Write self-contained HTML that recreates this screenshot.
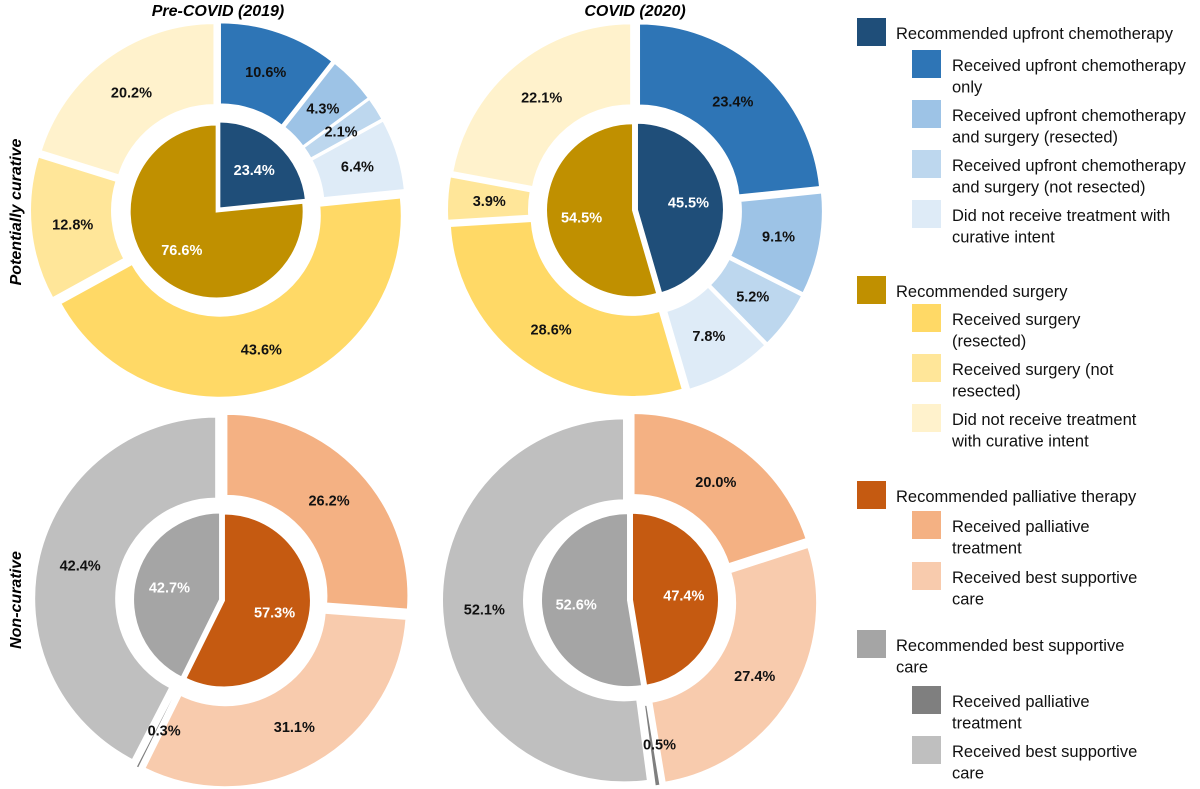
<!DOCTYPE html>
<html><head><meta charset="utf-8"><style>
html,body{margin:0;padding:0;background:#fff;}
svg{display:block;font-family:"Liberation Sans",Arial,sans-serif;}
</style></head><body>
<svg id="fig" width="1200" height="789" viewBox="0 0 1200 789" xmlns="http://www.w3.org/2000/svg">
<text x="218" y="16" font-size="16" font-weight="bold" font-style="italic" text-anchor="middle">Pre-COVID (2019)</text>
<text x="635" y="16" font-size="16" font-weight="bold" font-style="italic" text-anchor="middle">COVID (2020)</text>
<text transform="translate(21,212) rotate(-90)" font-size="16" font-weight="bold" font-style="italic" text-anchor="middle">Potentially curative</text>
<text transform="translate(21,600) rotate(-90)" font-size="16" font-weight="bold" font-style="italic" text-anchor="middle">Non-curative</text>
<g id="marks"></g>
<g id="labels"></g>
<g id="legend"></g>
</svg>
<script>
// Inner ring values (%)
const preCurInner = [23.4, 76.6];
const preCurOuter = [10.6, 4.3, 2.1, 6.4, 43.6, 12.8, 20.2];
const covCurInner = [45.5, 54.5];
const covCurOuter = [23.4, 9.1, 5.2, 7.8, 28.6, 3.9, 22.1];
const preNonInner = [57.3, 42.7];
const preNonOuter = [26.2, 31.1, 0.3, 42.4];
const covNonInner = [47.4, 52.6];
const covNonOuter = [20.0, 27.4, 0.5, 52.1];

const curInnerColors = ['#1f4e79', '#c09000'];
const curOuterColors = ['#2e75b6', '#9dc3e6', '#bdd7ee', '#deebf7', '#ffd966', '#ffe699', '#fff2cc'];
const nonInnerColors = ['#c55a11', '#a5a5a5'];
const nonOuterColors = ['#f4b183', '#f8cbad', '#7f7f7f', '#bfbfbf'];

const NS = 'http://www.w3.org/2000/svg';
const marks = document.getElementById('marks');
const labels = document.getElementById('labels');

function pt(cx, cy, r, a) { return [cx + r * Math.sin(a), cy - r * Math.cos(a)]; }
function arcPath(cx, cy, r0, r1, a0, a1) {
  const large = (a1 - a0) > Math.PI ? 1 : 0;
  const p1 = pt(cx, cy, r1, a0), p2 = pt(cx, cy, r1, a1);
  if (r0 <= 0) {
    return `M${cx},${cy}L${p1[0]},${p1[1]}A${r1},${r1} 0 ${large} 1 ${p2[0]},${p2[1]}Z`;
  }
  const p3 = pt(cx, cy, r0, a1), p4 = pt(cx, cy, r0, a0);
  return `M${p1[0]},${p1[1]}A${r1},${r1} 0 ${large} 1 ${p2[0]},${p2[1]}L${p3[0]},${p3[1]}A${r0},${r0} 0 ${large} 0 ${p4[0]},${p4[1]}Z`;
}

function ring(name, cx, cy, vals, colors, r0, r1, explode, labelR, labelColor, smallR) {
  const total = vals.reduce((s, v) => s + v, 0);
  let acc = 0;
  vals.forEach((v, i) => {
    const a0 = acc / total * 2 * Math.PI;
    acc += v;
    const a1 = acc / total * 2 * Math.PI;
    const mid = (a0 + a1) / 2;
    const ox = explode * Math.sin(mid), oy = -explode * Math.cos(mid);
    const p = document.createElementNS(NS, 'path');
    p.setAttribute('d', arcPath(cx + ox, cy + oy, r0, r1, a0, a1));
    p.setAttribute('fill', colors[i]);
    p.setAttribute('stroke', '#fff');
    p.setAttribute('stroke-width', '2');
    
    
    marks.appendChild(p);
    const small = v < 1;
    const lr = small ? smallR : labelR;
    const lp = pt(cx + ox, cy + oy, lr, mid);
    const t = document.createElementNS(NS, 'text');
    t.setAttribute('x', lp[0] + (small ? 8 : 0));
    t.setAttribute('y', lp[1] + 5);
    t.setAttribute('text-anchor', 'middle');
    t.setAttribute('font-size', '14.5');
    t.setAttribute('font-weight', 'bold');
    t.setAttribute('fill', labelColor);
    t.textContent = v.toFixed(1) + '%';
    
    
    labels.appendChild(t);
  });
}

function donut(name, cx, cy, inner, outer, ic, oc) {
  ring(name + '-outer', cx, cy, outer, oc, 100, 182, 6, 140, '#111', 140);
  ring(name + '-inner', cx, cy, inner, ic, 0, 87, 2, 52, '#fff', 52);
}

donut('pre-covid-curative', 218, 210, preCurInner, preCurOuter, curInnerColors, curOuterColors);
donut('covid-curative', 635, 210, covCurInner, covCurOuter, curInnerColors, curOuterColors);
donut('pre-covid-non-curative', 222, 600, preNonInner, preNonOuter, nonInnerColors, nonOuterColors);
donut('covid-non-curative', 630, 600, covNonInner, covNonOuter, nonInnerColors, nonOuterColors);

// Legend
const legendItems = [
  [0, 18, '#1f4e79', ['Recommended upfront chemotherapy']],
  [1, 50, '#2e75b6', ['Received upfront chemotherapy', 'only']],
  [1, 100, '#9dc3e6', ['Received upfront chemotherapy', 'and surgery (resected)']],
  [1, 150, '#bdd7ee', ['Received upfront chemotherapy', 'and surgery (not resected)']],
  [1, 200, '#deebf7', ['Did not receive treatment with', 'curative intent']],
  [0, 276, '#c09000', ['Recommended surgery']],
  [1, 304, '#ffd966', ['Received surgery', '(resected)']],
  [1, 354, '#ffe699', ['Received surgery (not', 'resected)']],
  [1, 404, '#fff2cc', ['Did not receive treatment', 'with curative intent']],
  [0, 481, '#c55a11', ['Recommended palliative therapy']],
  [1, 511, '#f4b183', ['Received palliative', 'treatment']],
  [1, 562, '#f8cbad', ['Received best supportive', 'care']],
  [0, 630, '#a5a5a5', ['Recommended best supportive', 'care']],
  [1, 686, '#7f7f7f', ['Received palliative', 'treatment']],
  [1, 736, '#bfbfbf', ['Received best supportive', 'care']]
];
const lg = document.getElementById('legend');
legendItems.forEach((it, i) => {
  const sx = it[0] ? 912 : 857;
  const tx = it[0] ? 952 : 896;
  const r = document.createElementNS(NS, 'rect');
  r.setAttribute('x', sx); r.setAttribute('y', it[1]);
  r.setAttribute('width', 29); r.setAttribute('height', 28);
  r.setAttribute('fill', it[2]);
  
  
  lg.appendChild(r);
  const t = document.createElementNS(NS, 'text');
  t.setAttribute('x', tx); t.setAttribute('y', it[1] + 21);
  t.setAttribute('font-size', '16.5'); t.setAttribute('fill', '#111');
  it[3].forEach((line, j) => {
    const ts = document.createElementNS(NS, 'tspan');
    ts.setAttribute('x', tx);
    if (j > 0) ts.setAttribute('dy', '21.5');
    ts.textContent = line;
    t.appendChild(ts);
  });
  
  
  lg.appendChild(t);
});
</script>
</body></html>
